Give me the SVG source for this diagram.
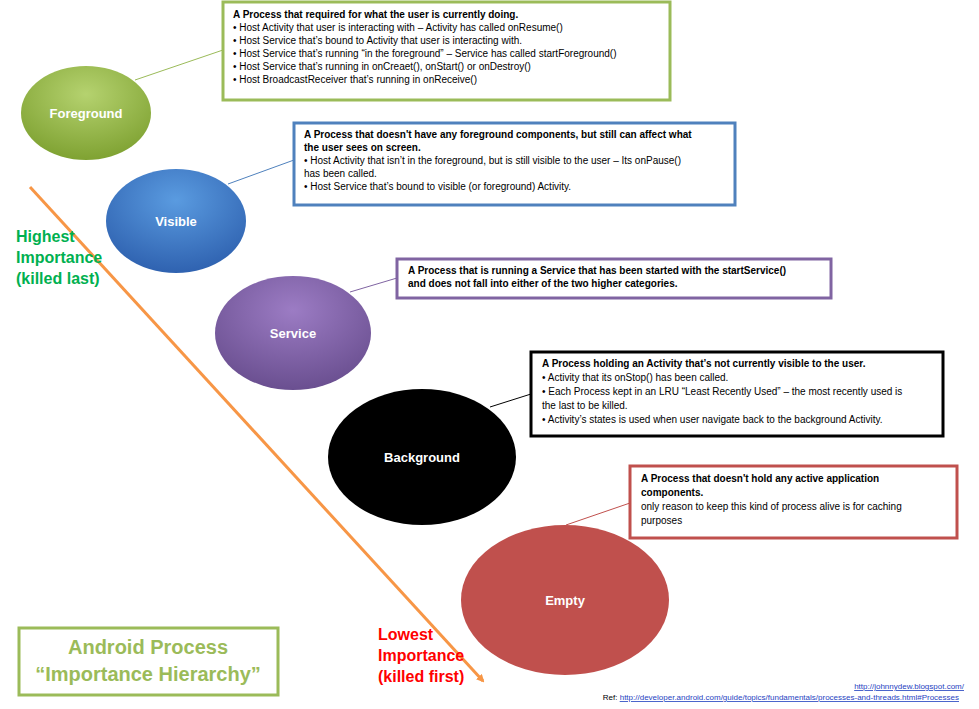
<svg xmlns="http://www.w3.org/2000/svg" width="979" height="709" viewBox="0 0 979 709">
<style>
text{font-family:"Liberation Sans",Arial,sans-serif}
.t{font-size:10px;fill:#000}
.b{font-weight:bold}
.lbl{font-size:13px;font-weight:bold;fill:#fff;text-anchor:middle}
.box{fill:#fff;stroke-width:3}
.ln{stroke-width:1;fill:none}
.big{font-size:16px;font-weight:bold}
.url{font-size:8px;fill:#1f3fbf;text-decoration:underline}
</style>
<defs>
<radialGradient id="gG" cx="0.5" cy="0.3" r="0.7"><stop offset="0" stop-color="#b5d26f"/><stop offset="1" stop-color="#7fa232"/></radialGradient>
<radialGradient id="gB" cx="0.5" cy="0.3" r="0.7"><stop offset="0" stop-color="#5a9be0"/><stop offset="1" stop-color="#2f62b0"/></radialGradient>
<radialGradient id="gP" cx="0.5" cy="0.3" r="0.7"><stop offset="0" stop-color="#9c7cc4"/><stop offset="1" stop-color="#6a4f90"/></radialGradient>
<marker id="ar" markerWidth="8" markerHeight="8" refX="6" refY="4" orient="auto" markerUnits="userSpaceOnUse"><path d="M0,0 L8,4 L0,8 z" fill="#f79646"/></marker>
</defs>
<rect width="979" height="709" fill="#fff"/>
<g id="connectors">
<line class="ln" stroke="#9bbb59" x1="135" y1="80" x2="223" y2="50"/>
<line class="ln" stroke="#4f81bd" x1="228" y1="184" x2="294" y2="160"/>
<line class="ln" stroke="#8064a2" x1="350" y1="292" x2="397" y2="278"/>
<line class="ln" stroke="#000" x1="490" y1="407" x2="531" y2="394"/>
<line class="ln" stroke="#c0504d" x1="566" y1="525" x2="630" y2="503"/>
<line stroke="#f79646" stroke-width="3" x1="30" y1="187" x2="483" y2="681" marker-end="url(#ar)"/>
</g>
<g id="foreground"><ellipse cx="86" cy="113" rx="65" ry="47" fill="url(#gG)"/><text class="lbl" x="86" y="118">Foreground</text></g>
<g id="visible"><ellipse cx="176" cy="221" rx="70" ry="52" fill="url(#gB)"/><text class="lbl" x="176" y="226">Visible</text></g>
<g id="service"><ellipse cx="293" cy="333" rx="78" ry="57" fill="url(#gP)"/><text class="lbl" x="293" y="338">Service</text></g>
<g id="background"><ellipse cx="422" cy="457" rx="94" ry="68" fill="#000"/><text class="lbl" x="422" y="462">Background</text></g>
<g id="empty"><ellipse cx="565" cy="600" rx="104" ry="75" fill="#c0504d"/><text class="lbl" x="565" y="605">Empty</text></g>
<g id="box-foreground"><rect class="box" x="223" y="2" width="447" height="98" stroke="#9bbb59"/>
<text class="t" x="233" y="18"><tspan class="b">A Process that required for what the user is currently doing.</tspan>
<tspan x="233" dy="13">• Host Activity that user is interacting with – Activity has called onResume()</tspan>
<tspan x="233" dy="13">• Host Service that’s bound to Activity that user is interacting with.</tspan>
<tspan x="233" dy="13">• Host Service that’s running “in the foreground” – Service has called startForeground()</tspan>
<tspan x="233" dy="13">• Host Service that’s running in onCreaet(), onStart() or onDestroy()</tspan>
<tspan x="233" dy="13">• Host BroadcastReceiver that’s running in onReceive()</tspan></text></g>
<g id="box-visible"><rect class="box" x="294" y="123" width="441" height="82" stroke="#4f81bd"/>
<text class="t" x="304" y="138"><tspan class="b">A Process that doesn't have any foreground components, but still can affect what</tspan>
<tspan class="b" x="304" dy="13">the user sees on screen.</tspan>
<tspan x="304" dy="13">• Host Activity that isn’t in the foreground, but is still visible to the user – Its onPause()</tspan>
<tspan x="304" dy="13">has been called.</tspan>
<tspan x="304" dy="13">• Host Service that’s bound to visible (or foreground) Activity.</tspan></text></g>
<g id="box-service"><rect class="box" x="397" y="259" width="434" height="39" stroke="#8064a2"/>
<text class="t b" x="408" y="274">A Process that is running a Service that has been started with the startService()<tspan x="408" dy="13">and does not fall into either of the two higher categories.</tspan></text></g>
<g id="box-background"><rect class="box" x="531" y="352" width="412" height="84" stroke="#000"/>
<text class="t" x="542" y="367"><tspan class="b">A Process holding an Activity that’s not currently visible to the user.</tspan>
<tspan x="542" dy="14">• Activity that its onStop() has been called.</tspan>
<tspan x="542" dy="14">• Each Process kept in an LRU “Least Recently Used” – the most recently used is</tspan>
<tspan x="542" dy="14">the last to be killed.</tspan>
<tspan x="542" dy="14">• Activity’s states is used when user navigate back to the background Activity.</tspan></text></g>
<g id="box-empty"><rect class="box" x="630" y="466" width="327" height="72" stroke="#c0504d"/>
<text class="t" x="641" y="482"><tspan class="b">A Process that doesn't hold any active application</tspan>
<tspan class="b" x="641" dy="14">components.</tspan>
<tspan x="641" dy="14">only reason to keep this kind of process alive is for caching</tspan>
<tspan x="641" dy="14">purposes</tspan></text></g>
<g id="highest"><text class="big" fill="#00b050" x="16" y="242">Highest<tspan x="16" dy="21">Importance</tspan><tspan x="16" dy="21">(killed last)</tspan></text></g>
<g id="lowest"><text class="big" fill="#ff0000" x="378" y="640">Lowest<tspan x="378" dy="21">Importance</tspan><tspan x="378" dy="21">(killed first)</tspan></text></g>
<g id="title"><rect x="19" y="628" width="259" height="67" fill="#fff" stroke="#9bbb59" stroke-width="3"/>
<text font-size="20" font-weight="bold" fill="#9bbb59" text-anchor="middle" x="148" y="654">Android Process<tspan x="148" dy="27">“Importance Hierarchy”</tspan></text></g>
<g id="refs"><text class="url" x="964" y="689" text-anchor="end">http://johnnydew.blogspot.com/</text>
<text font-size="8" x="959" y="700" text-anchor="end">Ref: <tspan class="url">http://developer.android.com/guide/topics/fundamentals/processes-and-threads.html#Processes</tspan></text></g>
</svg>
